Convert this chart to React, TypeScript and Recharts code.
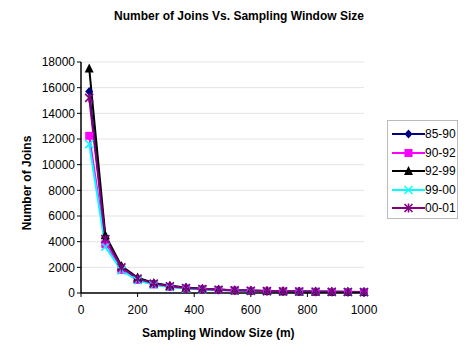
import React from 'react';
import { LineChart, Line, XAxis, YAxis, CartesianGrid } from 'recharts';

const windowSizes = [29, 86, 143, 200, 257, 314, 371, 429, 486, 543, 600, 657, 714, 771, 829, 886, 943, 1000];

const joins8590 = [15700, 4300, 2050, 1150, 750, 540, 400, 320, 260, 210, 180, 150, 130, 115, 105, 95, 85, 75];
const joins9092 = [12250, 3800, 1800, 1020, 670, 480, 360, 290, 235, 195, 165, 140, 125, 110, 95, 85, 78, 70];
const joins9299 = [17500, 4500, 2100, 1200, 780, 560, 420, 330, 270, 220, 190, 160, 140, 120, 110, 100, 90, 80];
const joins9900 = [11600, 3600, 1750, 990, 650, 470, 350, 280, 230, 190, 160, 135, 120, 105, 92, 83, 75, 68];
const joins0001 = [15200, 4200, 2000, 1120, 730, 530, 390, 310, 250, 205, 175, 150, 130, 115, 100, 90, 80, 72];

const xTicks = [0, 200, 400, 600, 800, 1000];
const yTicks = [0, 2000, 4000, 6000, 8000, 10000, 12000, 14000, 16000, 18000];

const series = [
  { key: 's8590', name: '85-90', values: joins8590, color: '#000080', shape: 'diamond' },
  { key: 's9092', name: '90-92', values: joins9092, color: '#FF00FF', shape: 'square' },
  { key: 's9299', name: '92-99', values: joins9299, color: '#000000', shape: 'triangle' },
  { key: 's9900', name: '99-00', values: joins9900, color: '#00FFFF', shape: 'cross' },
  { key: 's0001', name: '00-01', values: joins0001, color: '#800080', shape: 'star' },
];

const data = windowSizes.map((x, i) => {
  const row: Record<string, number> = { x };
  series.forEach((s) => {
    row[s.key] = s.values[i];
  });
  return row;
});

const FONT = '"Liberation Sans", Arial, sans-serif';

function Marker({ cx, cy, shape, color }: { cx: number; cy: number; shape: string; color: string }) {
  const r = 4;
  switch (shape) {
    case 'diamond':
      return <polygon points={`${cx},${cy - r - 0.5} ${cx + r},${cy} ${cx},${cy + r + 0.5} ${cx - r},${cy}`} fill={color} />;
    case 'square':
      return <rect x={cx - r} y={cy - r} width={r * 2} height={r * 2} fill={color} />;
    case 'triangle':
      return <polygon points={`${cx},${cy - r - 1} ${cx + r + 0.5},${cy + r} ${cx - r - 0.5},${cy + r}`} fill={color} />;
    case 'cross':
      return (
        <g stroke={color} strokeWidth={1.5}>
          <line x1={cx - r} y1={cy - r} x2={cx + r} y2={cy + r} />
          <line x1={cx - r} y1={cy + r} x2={cx + r} y2={cy - r} />
        </g>
      );
    default:
      return (
        <g stroke={color} strokeWidth={1.6}>
          <line x1={cx - r} y1={cy - r} x2={cx + r} y2={cy + r} />
          <line x1={cx - r} y1={cy + r} x2={cx + r} y2={cy - r} />
          <line x1={cx} y1={cy - r - 0.5} x2={cx} y2={cy + r + 0.5} />
        </g>
      );
  }
}

const makeDot = (shape: string, color: string) => (props: any) => (
  <g key={`${shape}-${props.index}`}>
    <Marker cx={props.cx} cy={props.cy} shape={shape} color={color} />
  </g>
);

function LegendBox() {
  return (
    <div
      style={{
        position: 'absolute',
        left: 387,
        top: 120,
        width: 71,
        height: 99,
        border: '1px solid #bbb',
        background: '#fff',
        boxSizing: 'border-box',
        paddingTop: 4,
      }}
    >
      {series.map((s) => (
        <div key={s.key} style={{ display: 'flex', alignItems: 'center', height: 18, marginBottom: 0.5, whiteSpace: 'nowrap' }}>
          <svg width={33} height={14} style={{ marginLeft: 4, flexShrink: 0 }}>
            <line x1={0} y1={7} x2={33} y2={7} stroke={s.color} strokeWidth={2} />
            <Marker cx={16.5} cy={7} shape={s.shape} color={s.color} />
          </svg>
          <span style={{ fontFamily: FONT, fontSize: 12, whiteSpace: 'nowrap' }}>{s.name}</span>
        </div>
      ))}
    </div>
  );
}

export default function App() {
  return (
    <div style={{ position: 'absolute', left: 0, top: 0, width: 474, height: 358, background: '#fff', fontFamily: FONT }}>
      <div style={{ position: 'absolute', left: 0, width: 474, top: 9, textAlign: 'center', fontSize: 12, fontWeight: 'bold', paddingLeft: 2 }}>
        Number of Joins Vs. Sampling Window Size
      </div>
      <LineChart width={474} height={358} data={data} margin={{ top: 62, right: 110, bottom: 45, left: 0 }}>
        <CartesianGrid vertical={false} stroke="#e4e4e4" strokeWidth={1} />
        <XAxis
          type="number"
          dataKey="x"
          domain={[0, 1000]}
          ticks={xTicks}
          tick={{ fill: '#000', fontSize: 12, fontFamily: FONT }}
          axisLine={{ stroke: '#000', strokeWidth: 1.5 }}
          tickLine={{ stroke: '#000' }}
          tickSize={4}
          tickMargin={8}
          height={20}
        />
        <XAxis xAxisId="top" orientation="top" type="number" dataKey="x" domain={[0, 1000]} tick={false} tickLine={false} axisLine={{ stroke: '#000', strokeWidth: 1.5 }} height={0} />
        <YAxis
          type="number"
          domain={[0, 18000]}
          ticks={yTicks}
          interval={0}
          tick={{ fill: '#000', fontSize: 12, fontFamily: FONT }}
          axisLine={{ stroke: '#000', strokeWidth: 1.5 }}
          tickLine={{ stroke: '#000' }}
          tickSize={4}
          width={81}
        />
        <YAxis yAxisId="right" orientation="right" domain={[0, 18000]} tick={false} tickLine={false} axisLine={{ stroke: '#000', strokeWidth: 1.5 }} width={0} />
        {series.map((s) => (
          <Line
            key={s.key}
            type="linear"
            dataKey={s.key}
            name={s.name}
            stroke={s.color}
            strokeWidth={2}
            dot={makeDot(s.shape, s.color)}
            activeDot={false}
            isAnimationActive={false}
          />
        ))}
      </LineChart>
      <div style={{ position: 'absolute', left: 142, top: 326, fontSize: 12, fontWeight: 'bold' }}>Sampling Window Size (m)</div>
      <div
        style={{
          position: 'absolute',
          left: 27,
          top: 183,
          transform: 'translate(-50%, -50%) rotate(-90deg)',
          fontSize: 12,
          fontWeight: 'bold',
          whiteSpace: 'nowrap',
        }}
      >
        Number of Joins
      </div>
      <LegendBox />
    </div>
  );
}
